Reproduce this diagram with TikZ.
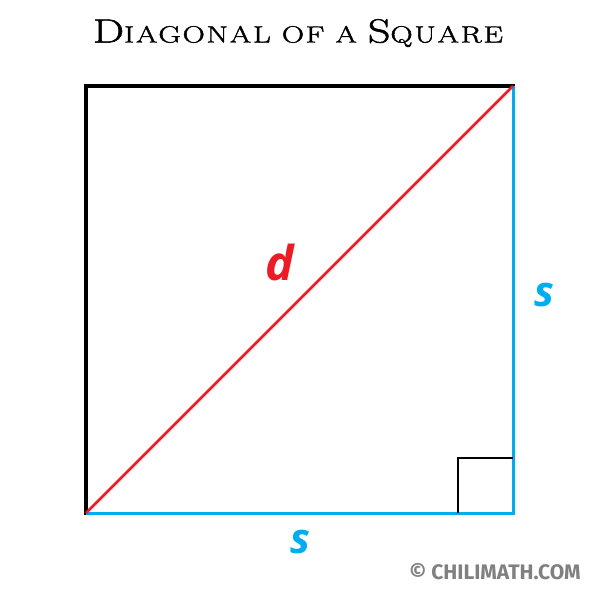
\documentclass[tikz,border=0pt]{standalone}
\usepackage{fontspec}
\newfontfamily\labfont{Open Sans}
\newfontfamily\cfont{Fira Sans}
\newfontfamily\titlefont[LetterSpace=6,FakeBold=1.5]{Latin Modern Roman}
\definecolor{sqred}{RGB}{237,28,36}
\definecolor{sqblue}{RGB}{0,174,239}
\definecolor{cgray}{RGB}{128,128,128}
\newcommand{\bigc}[1]{{\fontsize{33.5}{36}\selectfont #1}}
\newcommand{\smc}[1]{{\fontsize{23.5}{26}\selectfont #1}}
\begin{document}
\begin{tikzpicture}[x=1pt,y=-1pt,
  lab/.style={inner sep=0pt},
  edgeblack/.style={line width=3.5pt, black},
  edgeblue/.style={line width=3pt, sqblue},
  diag/.style={line width=2.6pt, sqred},
  rmark/.style={line width=1.4pt, black}]
\useasboundingbox (0,0) rectangle (600,600);
\coordinate (A) at (86,513);
\coordinate (B) at (513,513);
\coordinate (C) at (513,86);
\coordinate (D) at (86,86);
\coordinate (R1) at (458,513);
\coordinate (R2) at (458,458);
\coordinate (R3) at (513,458);
\node[inner sep=0pt, anchor=base] (title) at (298,42.5) {\scalebox{1.31}[1]{\titlefont\bigc{D}\smc{IAGONAL OF A }\bigc{S}\smc{QUARE}}};
\draw[edgeblack, line cap=rect] (A) -- (D) -- (C);
\draw[edgeblue, line join=miter] (C) -- (B) -- (A);
\draw[rmark] (R1) -- (R2) -- (R3);
\draw[diag] (A) -- (C);
\node[lab, text=sqred, font=\labfont\bfseries\itshape\fontsize{48}{50}\selectfont] (d) at (280,262) {d};
\node[lab, text=sqblue, font=\labfont\bfseries\itshape\fontsize{42}{44}\selectfont] (s1) at (544,295) {s};
\node[lab, text=sqblue, font=\labfont\bfseries\itshape\fontsize{42}{44}\selectfont] (s2) at (300,542) {s};
\node[font=\cfont\bfseries\fontsize{21}{23}\selectfont, text=cgray, inner sep=0pt] (copy) at (495,572) {© CHILIMATH.COM};
\end{tikzpicture}
\end{document}
